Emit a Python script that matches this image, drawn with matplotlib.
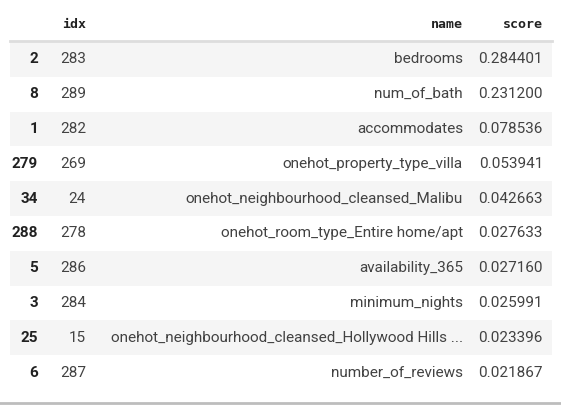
import matplotlib
matplotlib.use("Agg")
import matplotlib.pyplot as plt
from matplotlib.patches import Rectangle

index = ["2", "8", "1", "279", "34", "288", "5", "3", "25", "6"]
idx = [283, 289, 282, 269, 24, 278, 286, 284, 15, 287]
names = ["bedrooms", "num_of_bath", "accommodates", "onehot_property_type_villa",
         "onehot_neighbourhood_cleansed_Malibu", "onehot_room_type_Entire home/apt",
         "availability_365", "minimum_nights",
         "onehot_neighbourhood_cleansed_Hollywood Hills ...", "number_of_reviews"]
scores = [0.284401, 0.231200, 0.078536, 0.053941, 0.042663, 0.027633,
          0.027160, 0.025991, 0.023396, 0.021867]

fig = plt.figure(figsize=(5.61, 4.09), dpi=100)
ax = fig.add_axes([0, 0, 1, 1])
ax.set_xlim(0, 561); ax.set_ylim(409, 0); ax.axis("off")

x0, x1 = 10, 552
hy = 24
ax.text(62, hy, "idx", family="DejaVu Sans Mono", weight="bold", fontsize=9.5, va="center", ha="left", color="#212121")
ax.text(463, hy, "name", family="DejaVu Sans Mono", weight="bold", fontsize=9.5, va="center", ha="right", color="#212121")
ax.text(543, hy, "score", family="DejaVu Sans Mono", weight="bold", fontsize=9.5, va="center", ha="right", color="#212121")
ax.plot([x0, x1], [41, 41], color="#dddddd", lw=2)

top = 42
rh = 34.8
for i in range(len(index)):
    y = top + i * rh
    if i % 2 == 0:
        ax.add_patch(Rectangle((x0, y), x1 - x0, rh, color="#f5f5f5", lw=0))
    yc = y + rh / 2
    ax.text(38, yc, index[i], family="Roboto", weight="bold", fontsize=11, ha="right", va="center", color="#212121")
    ax.text(86, yc, str(idx[i]), family="Roboto", fontsize=11, ha="right", va="center", color="#424242")
    ax.text(463, yc, names[i], family="Roboto", fontsize=11, ha="right", va="center", color="#424242")
    ax.text(543, yc, f"{scores[i]:.6f}", family="Roboto", fontsize=11, ha="right", va="center", color="#424242")

ax.plot([0, 561], [403, 403], color="#bdbdbd", lw=2)
fig.savefig("out.png", dpi=100, facecolor="white")
